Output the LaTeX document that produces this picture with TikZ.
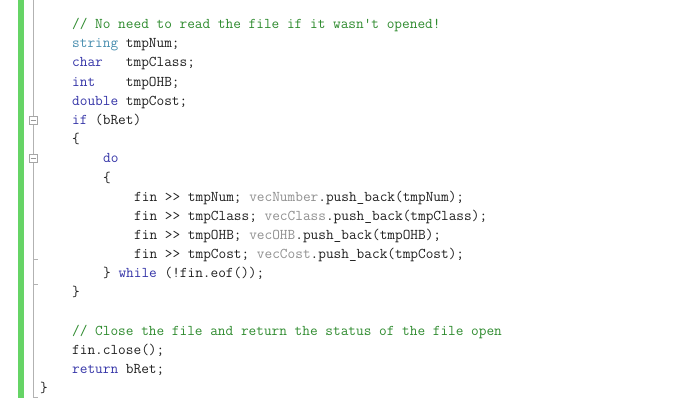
\documentclass[tikz,border=0pt]{standalone}
\usepackage{fontspec}
\usetikzlibrary{calc}
\definecolor{kw}{HTML}{3535A8}
\definecolor{ty}{HTML}{4A8FB0}
\definecolor{cm}{HTML}{2E8B2E}
\definecolor{gv}{HTML}{909090}
\definecolor{bar}{HTML}{66D466}
\definecolor{txt}{HTML}{202020}
\begin{document}
\begin{tikzpicture}[x=1pt,y=-1pt,
  code/.style={anchor=base west,inner sep=0pt,font=\ttfamily\fontsize{14.9}{16}\selectfont,text=txt},
  fold/.style={draw=gray!70,fill=white,minimum size=8pt,inner sep=0pt,line width=0.5pt}]
\useasboundingbox (0,0) rectangle (700,416);
\fill[white] (0,0) rectangle (700,416);
\fill[bar] (18,0) rectangle (24,398);
\draw[gray!60,line width=0.6pt] (33,0) -- (33,397) -- (38,397);
\draw[gray!60,line width=0.6pt] (33,259) -- (38,259);
\draw[gray!60,line width=0.6pt] (33,284) -- (38,284);
\node[fold] (f1) at (33,120) {};
\draw[gray!80] ($(f1)+(-2.5,0)$) -- ($(f1)+(2.5,0)$);
\node[fold] (f2) at (33,158) {};
\draw[gray!80] ($(f2)+(-2.5,0)$) -- ($(f2)+(2.5,0)$);
\def\L#1#2#3{\node[code] at (#1,#2+4.5) {#3};}
\L{72}{24}{\textcolor{cm}{// No need to read the file if it wasn't opened!}}
\L{72}{43}{\textcolor{ty}{string} tmpNum;}
\L{72}{62}{\textcolor{kw}{char}\ \ \ tmpClass;}
\L{72}{82}{\textcolor{kw}{int}\ \ \ \ tmpOHB;}
\L{72}{101}{\textcolor{kw}{double} tmpCost;}
\L{72}{120}{\textcolor{kw}{if} (bRet)}
\L{72}{139}{\{}
\L{103}{158}{\textcolor{kw}{do}}
\L{103}{178}{\{}
\L{134}{197}{fin >> tmpNum; \textcolor{gv}{vecNumber}.push\_back(tmpNum);}
\L{134}{216}{fin >> tmpClass; \textcolor{gv}{vecClass}.push\_back(tmpClass);}
\L{134}{235}{fin >> tmpOHB; \textcolor{gv}{vecOHB}.push\_back(tmpOHB);}
\L{134}{254}{fin >> tmpCost; \textcolor{gv}{vecCost}.push\_back(tmpCost);}
\L{103}{273}{\} \textcolor{kw}{while} (!fin.eof());}
\L{72}{292}{\}}
\L{72}{331}{\textcolor{cm}{// Close the file and return the status of the file open}}
\L{72}{350}{fin.close();}
\L{72}{369}{\textcolor{kw}{return} bRet;}
\L{40}{388}{\}}
\end{tikzpicture}
\end{document}
